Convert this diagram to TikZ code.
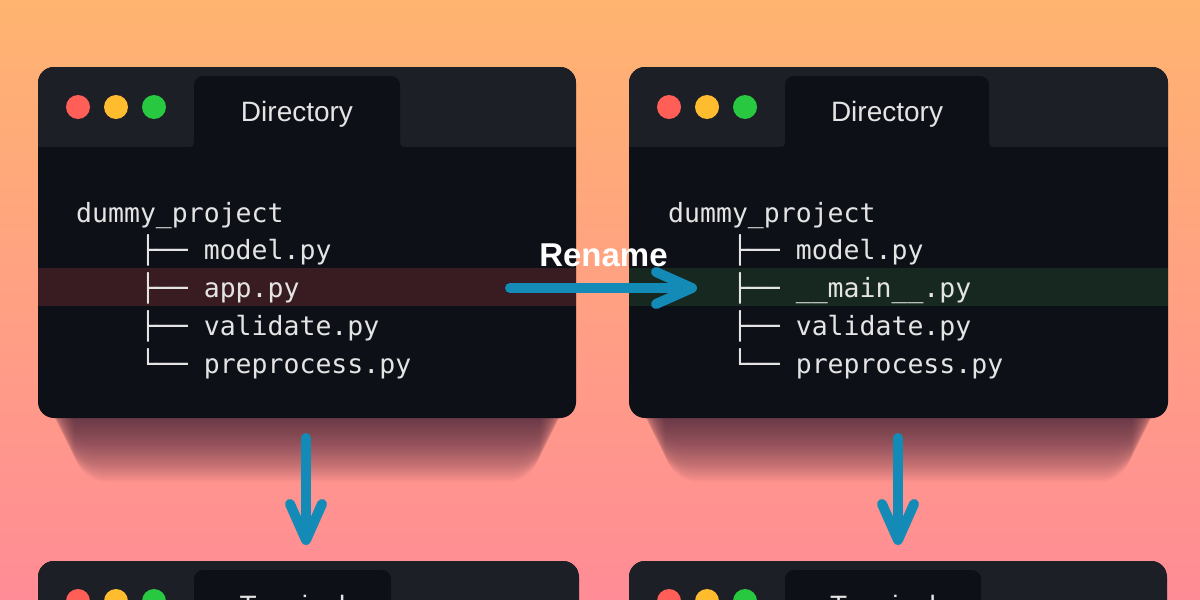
\documentclass[tikz,border=0pt]{standalone}
\usepackage{fontspec}
\setmainfont{Liberation Sans}
\setmonofont{DejaVu Sans Mono}
\usetikzlibrary{arrows.meta, calc}

\definecolor{bgtop}{RGB}{255,180,112}
\definecolor{bgmid}{RGB}{255,160,128}
\definecolor{bgbot}{RGB}{255,140,150}
\definecolor{winbody}{RGB}{13,16,23}
\definecolor{winhead}{RGB}{28,31,38}
\definecolor{dotred}{RGB}{255,95,87}
\definecolor{dotyellow}{RGB}{254,188,46}
\definecolor{dotgreen}{RGB}{40,200,64}
\definecolor{rowold}{RGB}{56,28,33}
\definecolor{rownew}{RGB}{22,40,32}
\definecolor{flowblue}{RGB}{20,138,182}
\definecolor{txt}{RGB}{228,228,228}
\definecolor{shade}{RGB}{40,20,50}

\tikzset{
  winshadow/.style={fill=shade, opacity=0.032, rounded corners=34},
  tabtitle/.style={anchor=base, text=txt, inner sep=0pt,
      font=\fontsize{28}{32}\selectfont},
  tree/.style={anchor=base west, text=txt, inner sep=0pt,
      font=\ttfamily\fontsize{26.5}{30}\selectfont},
  flow/.style={draw=flowblue, line width=10pt, line cap=round,
      -{Straight Barb[length=36pt, width=32pt, round]}},
  lbl/.style={text=white, inner sep=0pt, font=\bfseries\fontsize{33}{36}\selectfont}
}

% name, x, y, width, height, tab width, title
\newcommand{\appwindow}[7]{%
  \begin{scope}[shift={(#2,#3)}]
    \foreach \s in {2,4,...,64}
      \path[winshadow] (4+\s/2,80) rectangle (#4-4-\s/2,#5+\s);
    \fill[winbody, rounded corners=16] (0,0) rectangle (#4,#5);
    \begin{scope}
      \clip[rounded corners=16] (0,0) rectangle (#4,#5);
      \fill[winhead] (0,0) rectangle (#4,80);
    \end{scope}
    \fill[winbody, rounded corners=9] (156,9) rectangle ++(#6,90);
    \fill[winbody] (148,80) .. controls (156,80) .. (156,72) -- (156,80) -- cycle;
    \fill[winbody] (164+#6,80) .. controls (156+#6,80) .. (156+#6,72) -- (156+#6,80) -- cycle;
    \node[tabtitle] (#1-title) at (156+#6/2,54) {#7};
    \foreach \c [count=\k] in {dotred, dotyellow, dotgreen}
      \fill[\c] (2+38*\k,40) circle[radius=12];
  \end{scope}}

\begin{document}
\begin{tikzpicture}[x=1pt, y=-1pt]
  \useasboundingbox (0,0) rectangle (1200,600);
  \clip (0,0) rectangle (1200,600);
  \shade[top color=bgtop, middle color=bgmid, bottom color=bgbot] (0,0) rectangle (1200,600);

  % windows
  \appwindow{dirL}{38}{67}{538}{351}{206}{Directory}
  \appwindow{dirR}{629}{67}{539}{351}{204}{Directory}
  \appwindow{termL}{38}{561}{541}{351}{197}{Terminal}
  \appwindow{termR}{629}{561}{538}{351}{196}{Terminal}

  % changed rows
  \fill[rowold] (38,268) rectangle (576,306);
  \fill[rownew] (629,268) rectangle (1168,306);

  % trees
  \node[tree] (rootL) at (76,222) {dummy\_project};
  \foreach \b/\f [count=\i] in {├──/model.py, ├──/app.py, ├──/validate.py, └──/preprocess.py}
    \node[tree] (fileL\i) at ($(rootL.base west)+(0,37.75*\i)$) {\phantom{0000}\b~\f};

  \node[tree] (rootR) at (668,222) {dummy\_project};
  \foreach \b/\f [count=\i] in {├──/model.py, ├──/\_\_main\_\_.py, ├──/validate.py, └──/preprocess.py}
    \node[tree] (fileR\i) at ($(rootR.base west)+(0,37.75*\i)$) {\phantom{0000}\b~\f};

  % arrows
  \coordinate (renS) at (510,288);
  \coordinate (renE) at (697,288);
  \draw[flow] (renS) -- node[lbl, above=16pt] (renLbl) {Rename} (renE);

  \coordinate (dnLs) at (306,438);
  \coordinate (dnLe) at (306,545);
  \draw[flow] (dnLs) -- (dnLe);

  \coordinate (dnRs) at (898,438);
  \coordinate (dnRe) at (898,545);
  \draw[flow] (dnRs) -- (dnRe);
\end{tikzpicture}
\end{document}
